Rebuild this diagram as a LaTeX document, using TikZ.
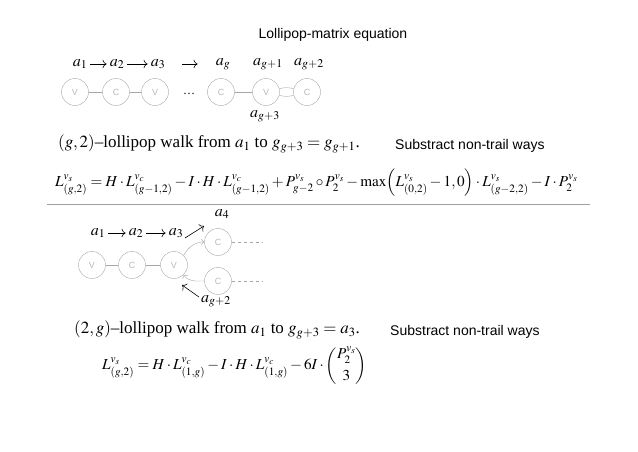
\documentclass[tikz,border=0pt]{standalone}
\usepackage{amsmath}
\usepackage{mathptmx}
\usepackage{fontspec}
\setmainfont{Liberation Serif}
\setsansfont{Liberation Sans}
\usetikzlibrary{arrows.meta,positioning}

\begin{document}
\begin{tikzpicture}[x=1pt, y=-1pt,
  vert/.style={circle, draw=gray!70, minimum size=27pt, inner sep=0pt, font=\sffamily\small, text=gray!55},
  edge/.style={gray!70},
  lab/.style={inner sep=1pt, font=\fontsize{16}{18}\selectfont},
  step arrow/.style={-{To[length=4pt]}, semithick, shorten <=2pt, shorten >=2pt},
  note/.style={font=\sffamily\fontsize{14}{16}\selectfont, anchor=west, inner sep=0pt},
  txt/.style={font=\fontsize{17}{20}\selectfont, anchor=west, inner sep=0pt},
  eqn/.style={font=\fontsize{15.2}{18}\selectfont, anchor=west, inner sep=0pt}]
  \useasboundingbox (0,0) rectangle (638,451);
  \node[note, anchor=center] (title) at (333,35) {Lollipop-matrix equation};

  % (g,2) lollipop: chain ending in a loop
  \node[vert] (v1) at (75,92) {V};
  \node[vert] (c1) at (116,92) {C};
  \node[vert] (v2) at (155,92) {V};
  \node[font=\large] (dots) at (189,94) {\dots};
  \node[vert] (cg) at (221,92) {C};
  \node[vert] (vg) at (266,92) {V};
  \node[vert] (cg2) at (307,92) {C};
  \draw[edge] (v1) -- (c1) (c1) -- (v2) (cg) -- (vg);
  \draw[edge] (vg) to[bend left=14] (cg2);
  \draw[edge] (vg) to[bend right=14] (cg2);
  % walk labels
  \node[lab] (a1) at (80,64) {$a_1$};
  \node[lab] (a2) at (117,64) {$a_2$};
  \node[lab] (a3) at (158,64) {$a_3$};
  \node[lab] (ag) at (223,64) {$a_g$};
  \node[lab] (ag1) at (268,64) {$a_{g+1}$};
  \node[lab] (ag2) at (309,64) {$a_{g+2}$};
  \node[lab] (ag3) at (265,116) {$a_{g+3}$};
  \draw[step arrow] (a1) -- (a2);
  \draw[step arrow] (a2) -- (a3);
  \draw[step arrow, shorten <=16pt, shorten >=17pt] (a3) -- (ag);

  \node[txt] (walk1) at (58,144) {$(g,2)$--lollipop walk from $a_1$ to $g_{g+3}=g_{g+1}$.};
  \node[note] (sub1) at (395,146) {Substract non-trail ways};
  \node[eqn] (eq1) at (55,183) {$L^{v_s}_{(g,2)} = H\cdot L^{v_c}_{(g-1,2)} - I\cdot H\cdot L^{v_c}_{(g-1,2)} + P^{v_s}_{g-2}\circ P^{v_s}_2 - \max\Bigl(L^{v_s}_{(0,2)}-1,0\Bigr)\cdot L^{v_s}_{(g-2,2)} - I\cdot P^{v_s}_2$};
  \coordinate (ruleL) at (47,204);
  \coordinate (ruleR) at (590,204);
  \draw[gray!75, line width=1pt] (ruleL) -- (ruleR);

  % (2,g) lollipop: loop at the start
  \node[vert] (w1) at (92,265) {V};
  \node[vert] (d1) at (132,265) {C};
  \node[vert] (w2) at (174,265) {V};
  \node[vert] (d2) at (218,242) {C};
  \node[vert] (dg) at (218,281) {C};
  \draw[edge] (w1) -- (d1) (d1) -- (w2);
  \draw[edge, -{To[length=3pt]}] (w2.north east) to[out=60, in=180] (d2.west);
  \draw[edge, -{To[length=3pt]}] (dg.west) to[out=180, in=-60] (w2.south east);
  \coordinate (d2end) at (262,242);
  \coordinate (dgend) at (262,281);
  \draw[edge, dashed] (d2) -- (d2end);
  \draw[edge, dashed] (dg) -- (dgend);
  \node[lab] (b1) at (98,233) {$a_1$};
  \node[lab] (b2) at (136,233) {$a_2$};
  \node[lab] (b3) at (176,233) {$a_3$};
  \node[lab] (b4) at (222,214) {$a_4$};
  \node[lab] (bg2) at (216,301) {$a_{g+2}$};
  \draw[step arrow] (b1) -- (b2);
  \draw[step arrow] (b2) -- (b3);
  \coordinate (outS) at (185,238);
  \coordinate (outE) at (204,226);
  \coordinate (inS) at (199,297);
  \coordinate (inE) at (182,285);
  \draw[step arrow, shorten <=0pt, shorten >=0pt] (outS) -- (outE);
  \draw[step arrow, shorten <=0pt, shorten >=0pt] (inS) -- (inE);

  \node[txt] (walk2) at (74,330) {$(2,g)$--lollipop walk from $a_1$ to $g_{g+3}=a_3$.};
  \node[note] (sub2) at (390,332) {Substract non-trail ways};
  \node[eqn] (eq2) at (102,366) {$L^{v_s}_{(g,2)} = H\cdot L^{v_c}_{(1,g)} - I\cdot H\cdot L^{v_c}_{(1,g)} - 6I\cdot\begin{pmatrix}P^{v_s}_2\\[4pt] 3\end{pmatrix}$};
\end{tikzpicture}
\end{document}
